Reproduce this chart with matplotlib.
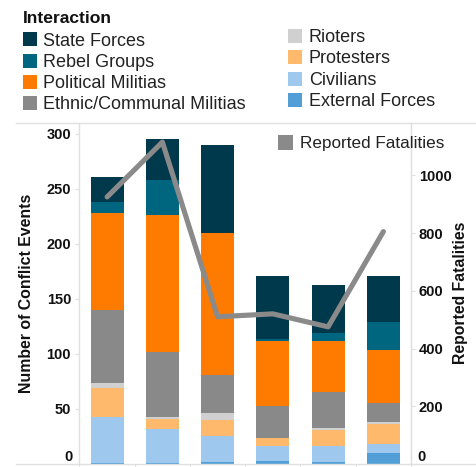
import matplotlib
matplotlib.use("Agg")
import matplotlib.pyplot as plt
from matplotlib.patches import Rectangle
from matplotlib.lines import Line2D
import numpy as np

plt.rcParams['font.family'] = ['Liberation Sans', 'DejaVu Sans']

# ---- data ----
periods = ["P1", "P2", "P3", "P4", "P5", "P6"]
external_forces = [1, 1, 2, 3, 2, 10]
civilians = [42, 31, 23, 13, 14, 8]
protesters = [26, 9, 15, 8, 15, 18]
rioters = [5, 2, 6, 0, 2, 2]
ethnic_militias = [66, 59, 35, 29, 32, 17]
political_militias = [88, 124, 129, 59, 47, 49]
rebel_groups = [10, 32, 0, 2, 7, 25]
state_forces = [23, 37, 80, 57, 44, 42]
fatalities = [925, 1115, 510, 520, 475, 805]

left_ticks = [0, 50, 100, 150, 200, 250, 300]
right_ticks = [0, 200, 400, 600, 800, 1000]

series = [
    ("External Forces", external_forces, "#529FD8"),
    ("Civilians", civilians, "#9FC8EF"),
    ("Protesters", protesters, "#FFB96C"),
    ("Rioters", rioters, "#D0D0D0"),
    ("Ethnic/Communal Militias", ethnic_militias, "#898989"),
    ("Political Militias", political_militias, "#FF7B00"),
    ("Rebel Groups", rebel_groups, "#00657F"),
    ("State Forces", state_forces, "#00394B"),
]
line_color = "#8A8A8A"
grid_color = "#E0E0E0"

W, H = 477, 467
fig = plt.figure(figsize=(W / 100, H / 100), dpi=100)

def fx(x):
    return x / W

def fy(y):
    return 1 - y / H

ax_l, ax_r, ax_t, ax_b = 79.5, 411.0, 123.3, 464.0
ax = fig.add_axes([fx(ax_l), fy(ax_b), fx(ax_r - ax_l), (ax_b - ax_t) / H])

x = np.arange(len(periods))
bottom = np.zeros(len(periods))
for name, vals, col in series:
    ax.bar(x, vals, width=0.6, bottom=bottom, color=col, linewidth=0, zorder=2)
    bottom += np.array(vals)

ax.set_xlim(-0.5, len(periods) - 0.5)
ax.set_ylim(0, 309.7)
ax.set_xticks(np.arange(-0.5, len(periods)), [""] * (len(periods) + 1))
ax.tick_params(axis='x', length=4, color=grid_color, direction='out')
ax.set_yticks(left_ticks, [""] + [str(v) for v in left_ticks[1:]])
ax.tick_params(axis='y', length=3, color=grid_color, pad=4.3 * 0.72,
               labelsize=10.5, labelcolor='#111111')
for lab in ax.get_yticklabels():
    lab.set_fontweight('bold')
for s in ['top', 'bottom']:
    ax.spines[s].set_visible(False)
for s in ['left', 'right']:
    ax.spines[s].set_color(grid_color)
    ax.spines[s].set_linewidth(1)
ax.annotate("0", xy=(0, 0), xycoords='axes fraction', xytext=(-7.3, 8.5),
            textcoords='offset pixels', ha='right', va='center_baseline',
            fontsize=10.5, fontweight='bold', color='#111111')

ax2 = ax.twinx()
ax2.plot(x, fatalities, color=line_color, linewidth=3.7,
         solid_capstyle='round', solid_joinstyle='round', zorder=3)
ax2.set_ylim(0, 1180)
ax2.set_yticks(right_ticks, [""] + [str(v) for v in right_ticks[1:]])
ax2.tick_params(axis='y', length=3, color=grid_color, pad=3.7 * 0.72,
                labelsize=10.5, labelcolor='#111111')
for lab in ax2.get_yticklabels():
    lab.set_fontweight('bold')
for s in ['top', 'bottom', 'left']:
    ax2.spines[s].set_visible(False)
ax2.spines['right'].set_color(grid_color)
ax2.annotate("0", xy=(1, 0), xycoords='axes fraction', xytext=(6.7, 8.5),
             textcoords='offset pixels', ha='left', va='center_baseline',
             fontsize=10.5, fontweight='bold', color='#111111')

# horizontal pane borders
for yy in (ax_t, ax_b):
    fig.add_artist(Line2D([fx(16), 1], [fy(yy), fy(yy)], transform=fig.transFigure,
                          color=grid_color, linewidth=1))

# axis titles
fig.text(fx(27), fy(293), "Number of Conflict Events", rotation=90, ha='center',
         va='center', fontsize=11.4, fontweight='bold', color='#111111')
fig.text(fx(461), fy(293), "Reported Fatalities", rotation=90, ha='center',
         va='center', fontsize=11.3, fontweight='bold', color='#111111')

# legend (Interaction)
fs = 13
cap = 0.358 * fs / 0.72
fig.text(fx(23), fy(16.3 + 0.358 * 17.5 / 0.72 * 0.72), "Interaction", ha='left',
         va='baseline', fontsize=12.6, fontweight='bold', color='#111111')
col1 = [("State Forces", "#00394B", 39.3), ("Rebel Groups", "#00657F", 61),
        ("Political Militias", "#FF7B00", 82), ("Ethnic/Communal Militias", "#898989", 103)]
col2 = [("Rioters", "#D0D0D0", 35.7), ("Protesters", "#FFB96C", 57),
        ("Civilians", "#9FC8EF", 78.7), ("External Forces", "#529FD8", 100)]
for entries, px0, tx0 in ((col1, 23, 43.3), (col2, 288.3, 309)):
    for name, col, yc in entries:
        fig.add_artist(Rectangle((fx(px0), fy(yc + 7)), 14 / W, 14 / H,
                                 transform=fig.transFigure, facecolor=col,
                                 edgecolor='none'))
        fig.text(fx(tx0), fy(yc + 0.358 * fs / 0.72), name, ha='left', va='baseline',
                 fontsize=fs, color='#222222')

# fatalities legend
fig.add_artist(Rectangle((fx(278), fy(149.5)), 15 / W, 15 / H,
                         transform=fig.transFigure, facecolor=line_color,
                         edgecolor='none'))
fig.text(fx(300), fy(142 + 0.358 * 12.3 / 0.72), "Reported Fatalities", ha='left',
         va='baseline', fontsize=12.3, color='#222222')

fig.savefig("out.png", dpi=100)
